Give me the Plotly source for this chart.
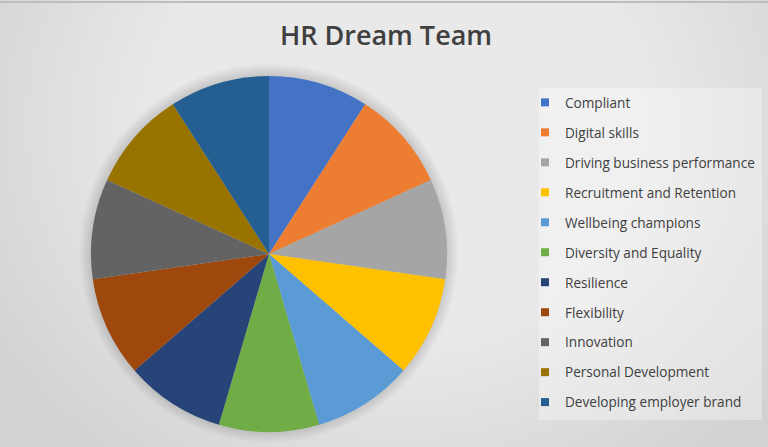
import plotly.graph_objects as go

labels = ["Compliant", "Digital skills", "Driving business performance",
          "Recruitment and Retention", "Wellbeing champions", "Diversity and Equality",
          "Resilience", "Flexibility", "Innovation", "Personal Development",
          "Developing employer brand"]
values = [1, 1, 1, 1, 1, 1, 1, 1, 1, 1, 1]
colors = ["#4472C4", "#ED7D31", "#A5A5A5", "#FFC000", "#5B9BD5", "#70AD47",
          "#264478", "#9E480E", "#636363", "#997300", "#255E91"]

W, H = 768, 447
PCX, PCY, PR = 269, 254, 178  # pie centre / radius in pixels

fig = go.Figure()

fig.add_trace(go.Pie(
    labels=labels, values=values, sort=False, direction="clockwise", rotation=0,
    marker=dict(colors=colors, line=dict(width=0)),
    textinfo="none", hoverinfo="label+percent", showlegend=False,
    domain=dict(x=[(PCX - PR) / W, (PCX + PR) / W],
                y=[(H - PCY - PR) / H, (H - PCY + PR) / H]),
))

# legend entries (one group each so spacing can be set)
for lab, col in zip(labels, colors):
    fig.add_trace(go.Scatter(
        x=[None], y=[None], mode="markers", name=lab, legendgroup=lab,
        marker=dict(symbol="square", size=8, color=col),
        hoverinfo="skip", showlegend=True,
    ))

shapes = []
# radial gradient background made of stacked soft ellipses
cx, cy = 0.52, 0.72
n = 44
for i in range(n):
    r = 1.0 - i * (0.96 / n)
    shapes.append(dict(
        type="circle", xref="paper", yref="paper", layer="below",
        x0=cx - r * 0.62, x1=cx + r * 0.62, y0=cy - r * 0.95, y1=cy + r * 0.95,
        fillcolor="rgba(255,255,255,0.045)", line=dict(width=0),
    ))
# soft shadow around the pie
for k in range(8):
    rr = PR + 1 + k * 1.5
    shapes.append(dict(
        type="circle", xref="paper", yref="paper", layer="below",
        x0=(PCX - rr) / W, x1=(PCX + rr) / W,
        y0=(H - PCY - rr + 1) / H, y1=(H - PCY + rr + 1) / H,
        fillcolor="rgba(0,0,0,0.016)", line=dict(width=0),
    ))
# legend box
shapes.append(dict(type="rect", xref="paper", yref="paper", layer="below",
                   x0=539 / W, x1=762 / W, y0=1 - 420 / H, y1=1 - 88 / H,
                   fillcolor="rgba(255,255,255,0.33)", line=dict(width=0)))
# top border line
shapes.append(dict(type="line", xref="paper", yref="paper", layer="above",
                   x0=0, x1=1, y0=1 - 2 / H, y1=1 - 2 / H,
                   line=dict(color="#bdbdbd", width=2)))

fig.update_layout(
    width=W, height=H,
    margin=dict(l=0, r=0, t=0, b=0),
    paper_bgcolor="#d2d2d2",
    plot_bgcolor="rgba(0,0,0,0)",
    shapes=shapes,
    title=dict(text="HR Dream Team", x=386 / W, xanchor="center",
               y=1 - 36 / H, yanchor="middle",
               font=dict(family="Open Sans", size=27, color="#404040", weight=600)),
    xaxis=dict(visible=False),
    yaxis=dict(visible=False),
    legend=dict(
        x=525 / W, y=1 - 87 / H, xanchor="left", yanchor="top",
        bgcolor="rgba(0,0,0,0)", borderwidth=0,
        font=dict(family="Open Sans", size=13.6, color="#404040"),
        tracegroupgap=9.3, itemclick=False, itemdoubleclick=False,
    ),
)

fig.write_html("out.html", config={"displayModeBar": False},
               post_script="document.body.style.margin='0';")
